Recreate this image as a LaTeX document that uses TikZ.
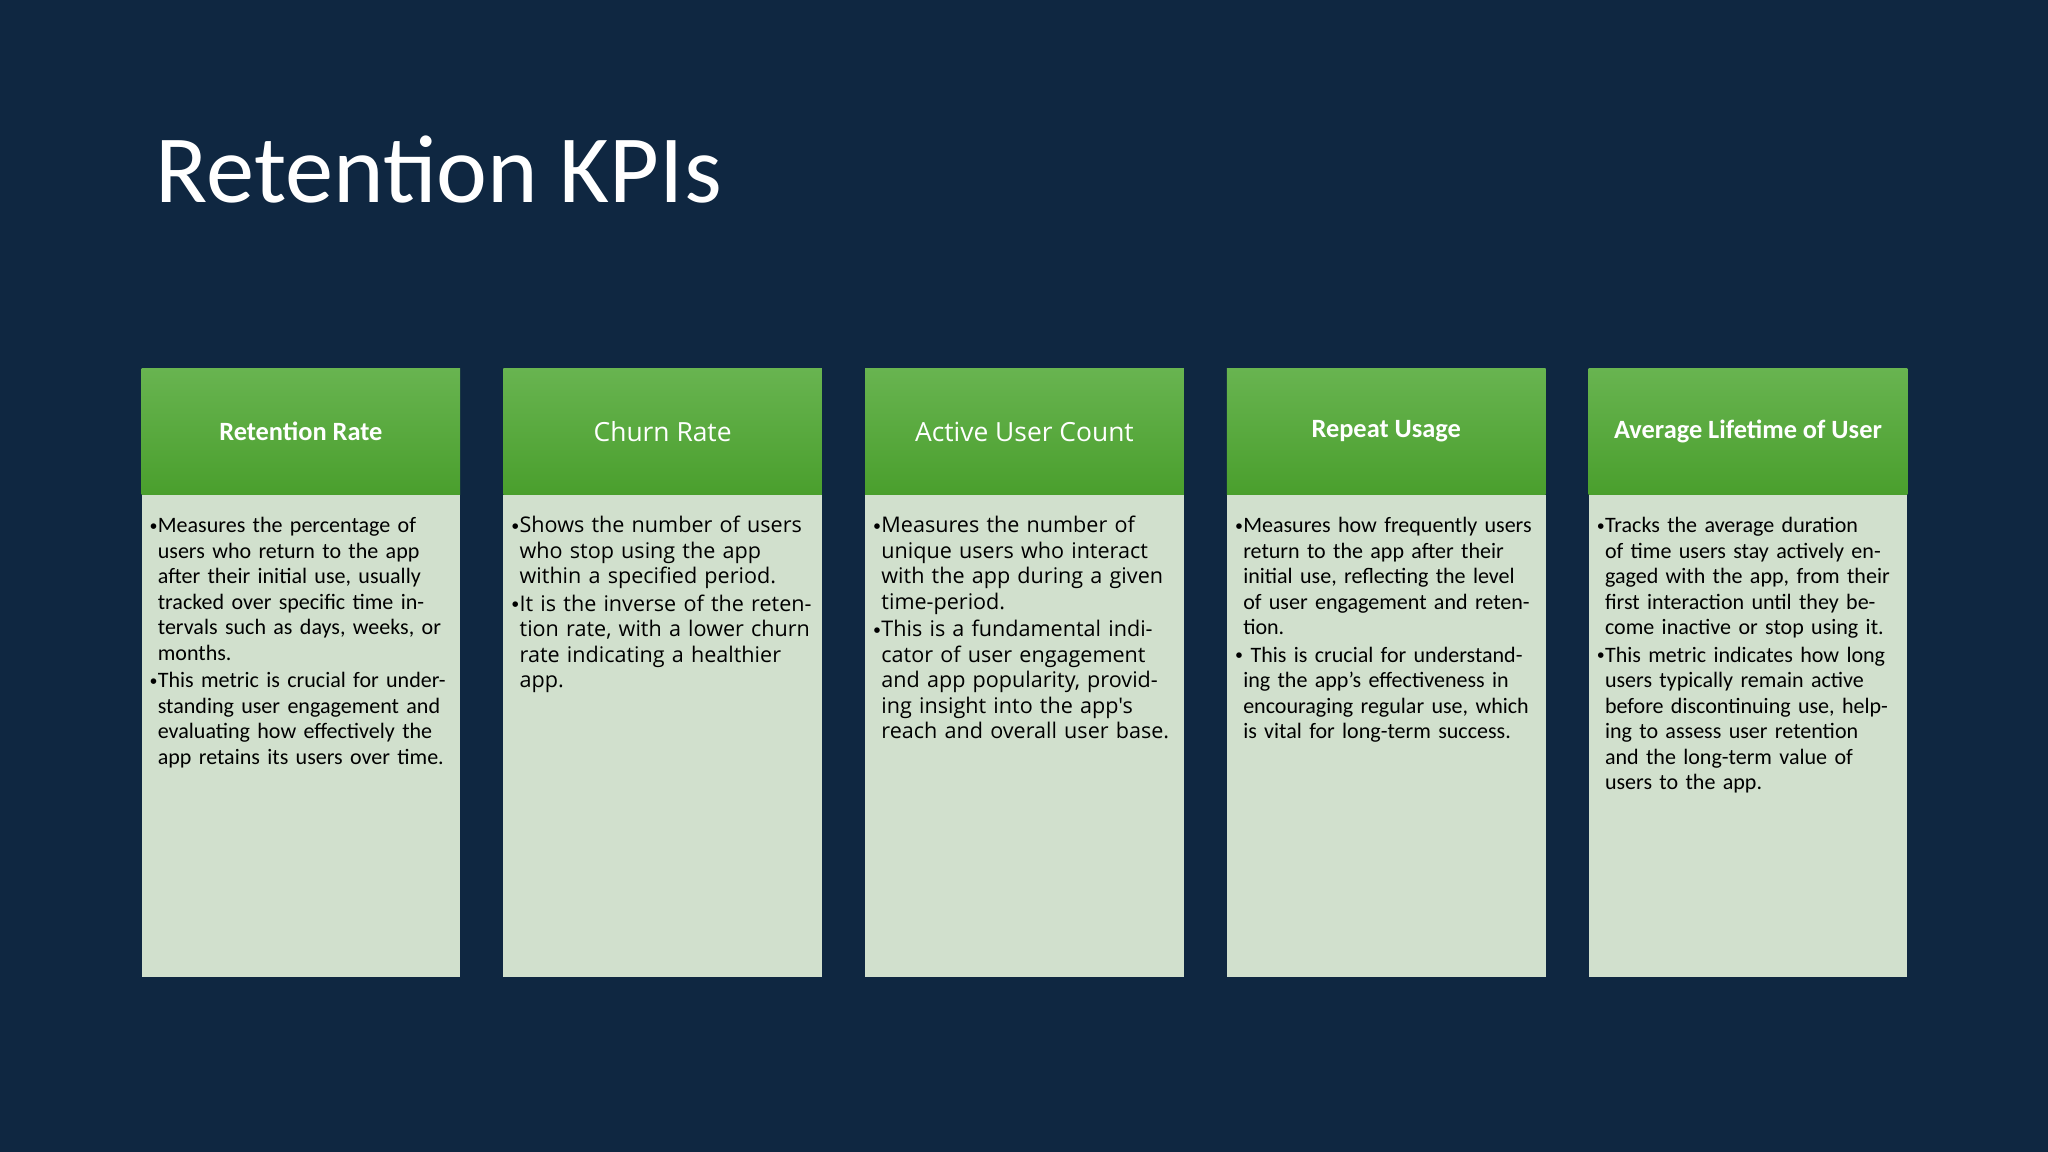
\documentclass[tikz,border=0pt]{standalone}
\usepackage{fontspec}
\setmainfont{Carlito}
\newfontfamily\opensans{Open Sans}
\usetikzlibrary{positioning}
\definecolor{slatebg}{HTML}{0F2741}
\definecolor{headtop}{HTML}{68B450}
\definecolor{headbot}{HTML}{4A9F2D}
\definecolor{bodyfill}{HTML}{D1E0CD}
\newcommand{\kpiitem}[1]{\par\hangindent=0.13cm\hangafter=1\noindent\makebox[0.13cm][l]{\raisebox{0.3ex}{\tiny$\bullet$}}#1\par\vspace{0.9pt}}
\tikzset{
	kpihead/.style={minimum width=4.88cm, minimum height=1.92cm, top color=headtop, bottom color=headbot, draw=none, text=white, font=\bfseries\fontsize{11.5}{13}\selectfont, anchor=north west, inner sep=0pt},
	kpibody/.style={minimum width=4.88cm, minimum height=7.38cm, fill=bodyfill, anchor=north west, inner sep=0pt},
	kpitext/.style={text width=4.62cm, anchor=north west, inner sep=0pt, align=left, font=\fontsize{9.6}{11.1}\selectfont},
	kpiopen/.style={kpitext, font=\opensans\fontsize{9.4}{11.1}\selectfont}
}
\begin{document}
\begin{tikzpicture}[x=0.02cm, y=-0.02cm]
	\fill[slatebg] (0,0) rectangle (1568,882);
	\node[anchor=base west, text=white, inner sep=0pt, font=\fontsize{42}{50}\selectfont] (title) at (119,155) {Retention KPIs};

	\node[kpihead] (h1) at (108,282) {Retention Rate};
	\node[kpihead] (h2) at (385,282) {\opensans\mdseries Churn Rate};
	\node[kpihead] (h3) at (662,282) {\opensans\mdseries Active User Count};
	\node[kpihead] (h4) at (939,282) {Repeat Usage};
	\node[kpihead] (h5) at (1216,282) {Average Lifetime of User};
	\foreach \k in {1,...,5}
		\node[kpibody, below=0pt of h\k.south west, anchor=north west] (b\k) {};

	\node[kpitext] (t1) at (114,388) {
		\kpiitem{Measures the percentage of users who return to the app after their initial use, usually tracked over specific time intervals such as days, weeks, or months.}
		\kpiitem{This metric is crucial for understanding user engagement and evaluating how effectively the app retains its users over time.}};
	\node[kpiopen] (t2) at (391,388) {
		\kpiitem{Shows the number of users who stop using the app within a specified period.}
		\kpiitem{It is the inverse of the retention rate, with a lower churn rate indicating a healthier app.}};
	\node[kpiopen] (t3) at (668,388) {
		\kpiitem{Measures the number of unique users who interact with the app during a given time-period.}
		\kpiitem{This is a fundamental indicator of user engagement and app popularity, providing insight into the app's reach and overall user base.}};
	\node[kpitext] (t4) at (945,388) {
		\kpiitem{Measures how frequently users return to the app after their initial use, reflecting the level of user engagement and retention.}
		\kpiitem{ This is crucial for understanding the app's effectiveness in encouraging regular use, which is vital for long-term success.}};
	\node[kpitext] (t5) at (1222,388) {
		\kpiitem{Tracks the average duration of time users stay actively engaged with the app, from their first interaction until they become inactive or stop using it.}
		\kpiitem{This metric indicates how long users typically remain active before discontinuing use, helping to assess user retention and the long-term value of users to the app.}};
\end{tikzpicture}
\end{document}
